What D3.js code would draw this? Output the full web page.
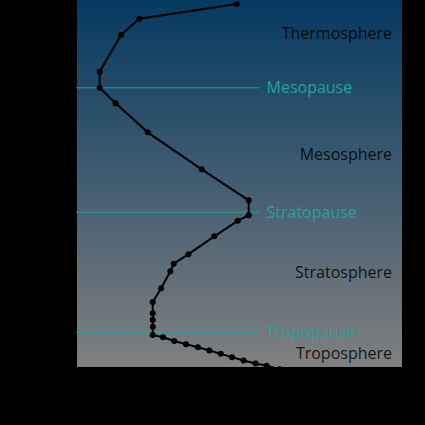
<!DOCTYPE html>
<html>
<head>
<meta charset="utf-8">
<script src="https://cdn.jsdelivr.net/npm/d3@7"></script>
<style>
  html, body { margin: 0; padding: 0; background: #000; }
  svg { display: block; }
</style>
</head>
<body>
<svg id="atmosphere"></svg>
<script>
// temperature profile (deg C vs altitude km)
const temperature = [-9.7, -64.4, -74.7, -86.7, -86.7, -77.7, -59.7, -29.4, -3.0, -3.0,
  -9.2, -22.3, -36.8, -45.1, -47.0, -52.2, -56.9, -56.9, -56.9, -56.9, -56.9,
  -51.1, -44.8, -38.2, -31.5, -25.1, -18.7, -12.4, -5.9, 0.8, 7.1, 14.5];
const altitude = [111.2, 106.7, 101.8, 90.7, 85.8, 81.1, 72.3, 61.1, 51.7, 47.2,
  45.5, 40.8, 35.4, 32.5, 30.2, 25.1, 20.9, 17.5, 15.5, 13.4, 10.9,
  10.2, 9.1, 8.1, 7.2, 6.2, 5.2, 4.2, 3.2, 2.3, 1.6, 0.5];

const layerNames = ["Thermosphere", "Mesosphere", "Stratosphere", "Troposphere"];
const layerAlts = [100.5, 63.9, 28.3, 3.7];

const boundaryNames = ["Mesopause", "Stratopause", "Tropopause"];
const boundaryAlts = [85.8, 48.1, 11.7];

const margin = { top: 0, right: 23, bottom: 58, left: 76 };
const width = 425 - margin.left - margin.right;
const height = 425 - margin.top - margin.bottom;

const svg = d3.select("#atmosphere")
  .attr("width", width + margin.left + margin.right)
  .attr("height", height + margin.top + margin.bottom);

const defs = svg.append("defs");
const grad = defs.append("linearGradient")
  .attr("id", "sky")
  .attr("x1", 0).attr("y1", 0).attr("x2", 0).attr("y2", 1);
grad.append("stop").attr("offset", "0%").attr("stop-color", "#053a61");
grad.append("stop").attr("offset", "100%").attr("stop-color", "#808080");

defs.append("clipPath").attr("id", "plot-clip")
  .append("rect").attr("width", width).attr("height", height);

const chart = svg.append("g")
  .attr("transform", `translate(${margin.left}, ${margin.top})`);

chart.append("rect")
  .attr("width", width)
  .attr("height", height)
  .attr("fill", "url(#sky)");

const xScale = d3.scaleLinear()
  .domain([-100, 83.1])
  .range([0, width]);

const yScale = d3.scaleLinear()
  .domain([0, 112.4])
  .range([height + 4, 0]);

// axes are drawn black on black, like the original
chart.append("g")
  .attr("transform", `translate(0, ${height})`)
  .call(d3.axisBottom(xScale).tickSize(0).tickFormat(""))
  .call(g => g.select(".domain").attr("stroke", "#000"));
chart.append("g")
  .call(d3.axisLeft(yScale).tickSize(0).tickFormat(""))
  .call(g => g.select(".domain").attr("stroke", "#000"));

// boundary lines and labels
const labelX = xScale(7);
chart.selectAll(".boundary")
  .data(boundaryAlts)
  .enter().append("line")
  .attr("class", "boundary")
  .attr("x1", 0)
  .attr("x2", xScale(3))
  .attr("y1", d => yScale(d))
  .attr("y2", d => yScale(d))
  .attr("stroke", "#20a39e")
  .attr("stroke-opacity", 0.9)
  .attr("stroke-width", 1);

chart.selectAll(".boundary-label")
  .data(boundaryNames)
  .enter().append("text")
  .attr("class", "boundary-label")
  .attr("x", labelX)
  .attr("y", (d, i) => yScale(boundaryAlts[i]) + 5.5)
  .attr("fill", "#20a39e")
  .style("font-family", "'Open Sans', sans-serif")
  .style("font-size", "16px")
  .style("font-weight", 500)
  .text(d => d);

chart.selectAll(".layer-label")
  .data(layerNames)
  .enter().append("text")
  .attr("class", "layer-label")
  .attr("x", width - 10)
  .attr("y", (d, i) => yScale(layerAlts[i]))
  .attr("text-anchor", "end")
  .attr("fill", "#000")
  .attr("fill-opacity", 0.85)
  .style("font-family", "'Open Sans', sans-serif")
  .style("font-size", "16px")
  .style("font-weight", 500)
  .text(d => d);

// profile line + points
const points = temperature.map((t, i) => [t, altitude[i]]);
const plot = chart.append("g").attr("clip-path", "url(#plot-clip)");

plot.append("path")
  .datum(points)
  .attr("fill", "none")
  .attr("stroke", "#000")
  .attr("stroke-width", 2)
  .attr("d", d3.line().x(d => xScale(d[0])).y(d => yScale(d[1])));

plot.selectAll(".pt")
  .data(points)
  .enter().append("circle")
  .attr("class", "pt")
  .attr("cx", d => xScale(d[0]))
  .attr("cy", d => yScale(d[1]))
  .attr("r", 3)
  .attr("fill", "#000");
</script>
</body>
</html>
